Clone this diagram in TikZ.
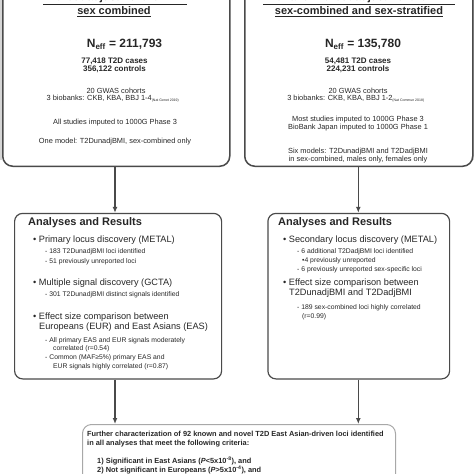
\documentclass[tikz,border=0pt]{standalone}
\usepackage{fontspec}
\setmainfont{Liberation Sans}
\usetikzlibrary{arrows.meta}
\definecolor{txt}{HTML}{262626}
\definecolor{boxdark}{HTML}{4A4A4A}
\definecolor{boxlight}{HTML}{A8A8A8}
\definecolor{edgegray}{HTML}{D6D6D6}
\newcommand\fTitle{\fontsize{11}{13}\selectfont\bfseries}
\newcommand\fNeff{\fontsize{12}{14}\selectfont\bfseries}
\newcommand\fCase{\fontsize{8}{9.5}\selectfont\bfseries}
\newcommand\fInfo{\fontsize{7.4}{9}\selectfont}
\newcommand\fHead{\fontsize{11}{13}\selectfont\bfseries}
\newcommand\fBul{\fontsize{9.2}{11}\selectfont}
\newcommand\fSub{\fontsize{6.8}{8}\selectfont}
\newcommand\fBot{\fontsize{7.4}{9}\selectfont\bfseries}
\newcommand\refsub[1]{\textsubscript{\fontsize{3.5}{4}\selectfont #1}}
\begin{document}
\begin{tikzpicture}[x=1pt,y=-1pt,
  topbox/.style={draw=boxdark, line width=1.5pt, rounded corners=10pt, inner sep=0pt},
  anbox/.style={draw=boxdark, line width=1.2pt, rounded corners=8pt, inner sep=0pt},
  lowbox/.style={draw=boxlight, line width=1pt, rounded corners=9pt, inner sep=0pt},
  conn/.style={draw=boxdark, line width=1.2pt, -{Latex[length=6pt,width=5pt]}},
  ctext/.style={anchor=mid, text=txt, inner sep=0pt},
  ltext/.style={anchor=mid west, text=txt, inner sep=0pt}]
\useasboundingbox (0,0) rectangle (474,474);
\clip (0,0) rectangle (474,474);
% edge shading
\fill[edgegray] (0,0) rectangle (1.5,160);
\fill[edgegray] (472.5,0) rectangle (474,160);
% boxes
\node[topbox, anchor=south west, minimum width=227pt, minimum height=200pt] (tl) at (2,167) {};
\node[topbox, anchor=south west, minimum width=228pt, minimum height=200pt] (tr) at (244,167) {};
\node[anbox, anchor=north west, minimum width=207pt, minimum height=165.5pt] (al) at (14,212.8) {};
\node[anbox, anchor=north west, minimum width=181.7pt, minimum height=165.5pt] (ar) at (267.3,212.8) {};
\node[lowbox, anchor=north west, minimum width=313pt, minimum height=80pt] (bt) at (82,424) {};
% connectors
\coordinate (lx) at (115,0);
\coordinate (rx) at (358.3,0);
\draw[conn] (lx |- tl.south) -- (lx |- al.north);
\draw[conn] (rx |- tr.south) -- (rx |- ar.north);
\draw[conn] (lx |- al.south) -- (lx |- bt.north);
\draw[conn] (rx |- ar.south) -- (rx |- bt.north);
% top-left text
\node[ctext, font=\fTitle] (l1) at (115,-2.6) {\underline{Without adjustment for BMI}};
\node[ctext, font=\fTitle] (l2) at (114,11.7) {\underline{sex combined}};
\node[ctext, font=\fNeff] (l3) at (124.5,45) {N\textsubscript{eff} = 211,793};
\node[ctext, font=\fCase] (l4) at (114.5,61) {77,418 T2D cases};
\node[ctext, font=\fCase] (l5) at (114.5,68.5) {356,122 controls};
\node[ctext, font=\fInfo] (l6) at (116,90.5) {20 GWAS cohorts};
\node[ctext, font=\fInfo] (l7) at (113,97.5) {3 biobanks: CKB, KBA, BBJ 1-4\refsub{(Nat Genet 2019)}};
\node[ctext, font=\fInfo] (l8) at (115,121.7) {All studies imputed to 1000G Phase 3};
\node[ctext, font=\fInfo] (l9) at (115,140.7) {One model: T2DunadjBMI, sex-combined only};
% top-right text
\node[ctext, font=\fTitle] (r1) at (359,-2.6) {\underline{With and without adjustment for BMI}};
\node[ctext, font=\fTitle] (r2) at (359,11.7) {\underline{sex-combined and sex-stratified}};
\node[ctext, font=\fNeff] (r3) at (363,45) {N\textsubscript{eff} = 135,780};
\node[ctext, font=\fCase] (r4) at (358,61) {54,481 T2D cases};
\node[ctext, font=\fCase] (r5) at (358,68.5) {224,231 controls};
\node[ctext, font=\fInfo] (r6) at (358,90.5) {20 GWAS cohorts};
\node[ctext, font=\fInfo] (r7) at (356,97.5) {3 biobanks: CKB, KBA, BBJ 1-2\refsub{(Nat Commun 2018)}};
\node[ctext, font=\fInfo] (r8) at (358,118.5) {Most studies imputed to 1000G Phase 3};
\node[ctext, font=\fInfo] (r9) at (358,127) {BioBank Japan imputed to 1000G Phase 1};
\node[ctext, font=\fInfo] (r10) at (358,151) {Six models: T2DunadjBMI and T2DadjBMI};
\node[ctext, font=\fInfo] (r11) at (358,159) {in sex-combined, males only, females only};
% left analysis text
\node[ltext, font=\fHead] (a1) at (28,223) {Analyses and Results};
\node[ltext, font=\fBul] (a2) at (33,240) {• Primary locus discovery (METAL)};
\node[ltext, font=\fSub] (a3) at (45,251) {- 183 T2DunadjBMI loci identified};
\node[ltext, font=\fSub] (a4) at (45,261) {- 51 previously unreported loci};
\node[ltext, font=\fBul] (a5) at (33,283) {• Multiple signal discovery (GCTA)};
\node[ltext, font=\fSub] (a6) at (45,294) {- 301 T2DunadjBMI distinct signals identified};
\node[ltext, font=\fBul] (a7) at (33,317) {• Effect size comparison between};
\node[ltext, font=\fBul] (a8) at (39,327) {Europeans (EUR) and East Asians (EAS)};
\node[ltext, font=\fSub] (a9) at (45,340) {- All primary EAS and EUR signals moderately};
\node[ltext, font=\fSub] (a10) at (53,348) {correlated (r=0.54)};
\node[ltext, font=\fSub] (a11) at (45,357) {- Common (MAF≥5\%) primary EAS and};
\node[ltext, font=\fSub] (a12) at (53,366) {EUR signals highly correlated (r=0.87)};
% right analysis text
\node[ltext, font=\fHead] (b1) at (278,223) {Analyses and Results};
\node[ltext, font=\fBul] (b2) at (283,240) {• Secondary locus discovery (METAL)};
\node[ltext, font=\fSub] (b3) at (297,251) {- 6 additional T2DadjBMI loci identified};
\node[ltext, font=\fSub] (b4) at (302,260) {•4 previously unreported};
\node[ltext, font=\fSub] (b5) at (297,269) {- 6 previously unreported sex-specific loci};
\node[ltext, font=\fBul] (b6) at (283,283) {• Effect size comparison between};
\node[ltext, font=\fBul] (b7) at (289,293) {T2DunadjBMI and T2DadjBMI};
\node[ltext, font=\fSub] (b8) at (297,307) {- 189 sex-combined loci highly correlated};
\node[ltext, font=\fSub] (b9) at (302,316) {(r=0.99)};
% bottom text
\node[ltext, font=\fBot] (c1) at (87,434.3) {Further characterization of 92 known and novel T2D East Asian-driven loci identified};
\node[ltext, font=\fBot] (c2) at (87,443.3) {in all analyses that meet the following criteria:};
\node[ltext, font=\fBot] (c3) at (97,461) {1) Significant in East Asians (\textit{P}<5x10\textsuperscript{-8}), and};
\node[ltext, font=\fBot] (c4) at (97,470) {2) Not significant in Europeans (\textit{P}>5x10\textsuperscript{-4}), and};
\end{tikzpicture}
\end{document}
